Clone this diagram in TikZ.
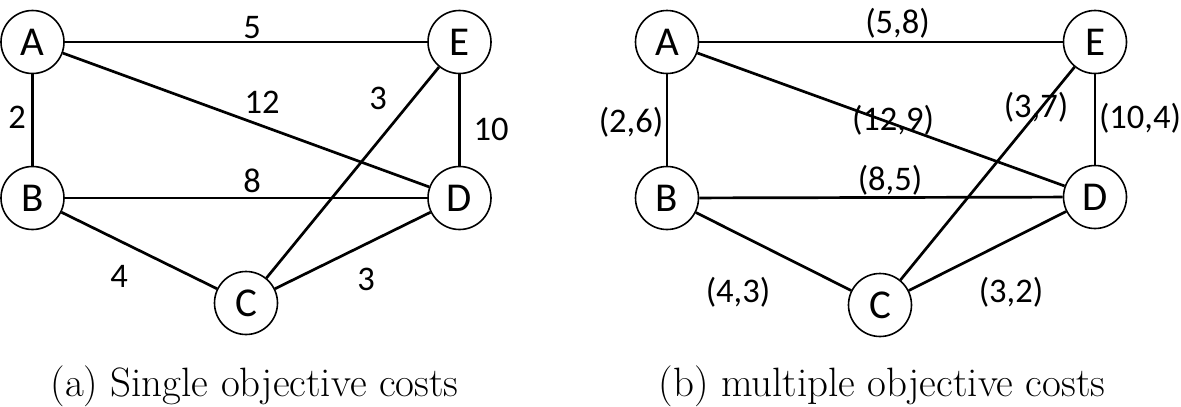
\documentclass[tikz,border=0pt]{standalone}
\usepackage{fontspec}
\newfontfamily\carl{Carlito}
\begin{document}
\begin{tikzpicture}[x=1pt,y=-1pt,
  vtx/.style={circle,draw,line width=1.6pt,minimum size=63pt,inner sep=0pt,font=\carl\fontsize{41}{41}\selectfont},
  edge/.style={line width=2.7pt},
  lbl/.style={anchor=base,inner sep=0pt,font=\carl\fontsize{34.5}{34.5}\selectfont},
  captext/.style={anchor=base,inner sep=0pt,font=\fontsize{41}{48}\selectfont}]
\useasboundingbox (0,0) rectangle (1181,407);
% left graph
\node[vtx] (lA) at (32.5,42) {A};
\node[vtx] (lE) at (459.5,42) {E};
\node[vtx] (lB) at (32.5,198) {B};
\node[vtx] (lD) at (459.5,198) {D};
\node[vtx] (lC) at (246,303) {C};
\draw[edge] (lA) -- (lE);
\draw[edge] (lA) -- (lB);
\draw[edge] (lA) -- (lD);
\draw[edge] (lB) -- (lD);
\draw[edge] (lE) -- (lD);
\draw[edge] (lE) -- (lC);
\draw[edge] (lB) -- (lC);
\draw[edge] (lC) -- (lD);
\node[lbl] (l5) at (252,38) {5};
\node[lbl] (l12) at (262,113) {12};
\node[lbl] (l3a) at (378,109) {3};
\node[lbl] (l10) at (491,140) {10};
\node[lbl] (l2) at (17,128) {2};
\node[lbl] (l8) at (252,192) {8};
\node[lbl] (l4) at (119,287) {4};
\node[lbl] (l3b) at (366,290) {3};
% right graph
\node[vtx] (rA) at (667,42) {A};
\node[vtx] (rE) at (1095,42) {E};
\node[vtx] (rB) at (667,198) {B};
\node[vtx] (rD) at (1095,197) {D};
\node[vtx] (rC) at (880,305) {C};
\draw[edge] (rA) -- (rE);
\draw[edge] (rA) -- (rB);
\draw[edge] (rA) -- (rD);
\draw[edge] (rB) -- (rD);
\draw[edge] (rE) -- (rD);
\draw[edge] (rE) -- (rC);
\draw[edge] (rB) -- (rC);
\draw[edge] (rC) -- (rD);
\node[lbl] (r58) at (897.5,33) {(5,8)};
\node[lbl] (r129) at (893,130) {(12,9)};
\node[lbl] (r37) at (1036,117) {(3,7)};
\node[lbl] (r104) at (1140,128) {(10,4)};
\node[lbl] (r26) at (631,132) {(2,6)};
\node[lbl] (r85) at (890,190) {(8,5)};
\node[lbl] (r43) at (738,302) {(4,3)};
\node[lbl] (r32) at (1011,302) {(3,2)};
% captions
\node[captext] (capa) at (254.5,396) {(a) Single objective costs};
\node[captext] (capb) at (882,396) {(b) multiple objective costs};
\end{tikzpicture}
\end{document}
